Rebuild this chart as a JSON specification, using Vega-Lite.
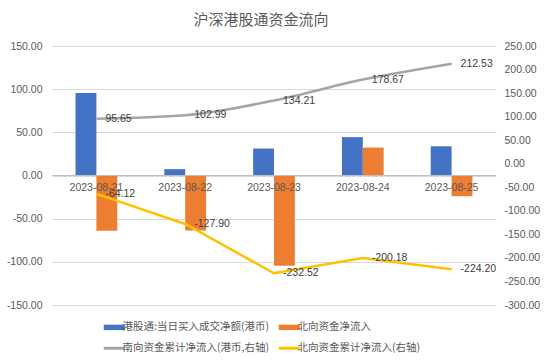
{
  "$schema": "https://vega.github.io/schema/vega-lite/v6.json",
  "width": 444,
  "height": 259,
  "autosize": "none",
  "padding": {"left": 52, "top": 46, "right": 54, "bottom": 59},
  "background": "white",
  "title": {"text": "沪深港股通资金流向", "font": "Noto Sans CJK SC", "fontSize": 15, "fontWeight": "normal", "color": "#595959", "offset": 13, "dx": -13, "anchor": "middle", "frame": "group"},
  "config": {"view": {"stroke": null}, "locale": {"number": {"decimal": ".", "thousands": ",", "grouping": [3], "currency": ["$", ""], "minus": "-"}}},
  "data": {"values": [
    {"date": "2023-08-21", "series": "港股通:当日买入成交净额(港币)", "value": 95.65},
    {"date": "2023-08-22", "series": "港股通:当日买入成交净额(港币)", "value": 7.34},
    {"date": "2023-08-23", "series": "港股通:当日买入成交净额(港币)", "value": 31.22},
    {"date": "2023-08-24", "series": "港股通:当日买入成交净额(港币)", "value": 44.46},
    {"date": "2023-08-25", "series": "港股通:当日买入成交净额(港币)", "value": 33.86},
    {"date": "2023-08-21", "series": "北向资金净流入", "value": -64.12},
    {"date": "2023-08-22", "series": "北向资金净流入", "value": -63.78},
    {"date": "2023-08-23", "series": "北向资金净流入", "value": -104.62},
    {"date": "2023-08-24", "series": "北向资金净流入", "value": 32.34},
    {"date": "2023-08-25", "series": "北向资金净流入", "value": -24.02},
    {"date": "2023-08-21", "series": "南向资金累计净流入(港币,右轴)", "value": 95.65},
    {"date": "2023-08-22", "series": "南向资金累计净流入(港币,右轴)", "value": 102.99},
    {"date": "2023-08-23", "series": "南向资金累计净流入(港币,右轴)", "value": 134.21},
    {"date": "2023-08-24", "series": "南向资金累计净流入(港币,右轴)", "value": 178.67},
    {"date": "2023-08-25", "series": "南向资金累计净流入(港币,右轴)", "value": 212.53},
    {"date": "2023-08-21", "series": "北向资金累计净流入(右轴)", "value": -64.12},
    {"date": "2023-08-22", "series": "北向资金累计净流入(右轴)", "value": -127.90},
    {"date": "2023-08-23", "series": "北向资金累计净流入(右轴)", "value": -232.52},
    {"date": "2023-08-24", "series": "北向资金累计净流入(右轴)", "value": -200.18},
    {"date": "2023-08-25", "series": "北向资金累计净流入(右轴)", "value": -224.20}
  ]},
  "layer": [
    {
      "layer": [
        {
          "transform": [{"filter": {"field": "series", "oneOf": ["港股通:当日买入成交净额(港币)", "北向资金净流入"]}}],
          "mark": {"type": "bar"},
          "encoding": {
            "x": {"field": "date", "type": "nominal", "scale": {"paddingInner": 0.53, "paddingOuter": 0.265}, "axis": null},
            "xOffset": {"field": "series", "type": "nominal", "scale": {"domain": ["港股通:当日买入成交净额(港币)", "北向资金净流入"], "paddingInner": 0, "paddingOuter": 0}},
            "y": {"field": "value", "type": "quantitative", "scale": {"domain": [-150, 150], "nice": false, "zero": false},
              "axis": {"orient": "left", "title": null, "format": ".2f", "values": [-150, -100, -50, 0, 50, 100, 150], "labelOverlap": false, "grid": true, "gridColor": "#D9D9D9", "domain": false, "ticks": false, "labelPadding": 10, "labelFontSize": 10.5, "labelColor": "#595959", "labelFont": "Liberation Sans"}},
            "color": {"field": "series", "type": "nominal",
              "scale": {"domain": ["港股通:当日买入成交净额(港币)", "北向资金净流入", "南向资金累计净流入(港币,右轴)", "北向资金累计净流入(右轴)"], "range": ["#4472C4", "#ED7D31", "#A5A5A5", "#FFC000"]},
              "legend": {"orient": "none", "direction": "horizontal", "legendX": 57, "legendY": 276, "columns": 2, "title": null, "padding": 0, "symbolSize": 441, "symbolType": "M-1,-0.26H1V0.26H-1Z", "labelFont": "Noto Sans CJK SC", "labelFontSize": 10.5, "labelColor": "#595959", "labelOffset": 3, "columnPadding": 2, "rowPadding": 9, "labelLimit": 300,
                "encode": {"symbols": {"update": {
                  "shape": {"signal": "datum.index < 2 ? 'M-1,-0.26H1V0.26H-1Z' : 'M-1,0H1'"},
                  "fill": {"signal": "datum.index < 2 ? scale('color', datum.value) : 'transparent'"},
                  "stroke": {"signal": "scale('color', datum.value)"},
                  "strokeWidth": {"signal": "datum.index < 2 ? 0 : 3"},
                  "opacity": {"value": 1}
                }}}}}
          }
        },
        {
          "transform": [{"filter": {"field": "series", "equal": "南向资金累计净流入(港币,右轴)"}}],
          "mark": {"type": "rule", "color": "#BFBFBF", "strokeWidth": 1},
          "encoding": {"y": {"datum": 0}}
        },
        {
          "transform": [{"filter": {"field": "series", "equal": "南向资金累计净流入(港币,右轴)"}}],
          "mark": {"type": "text", "dy": 12, "fontSize": 10.5, "font": "Liberation Sans", "color": "#595959", "baseline": "middle", "align": "center"},
          "encoding": {
            "x": {"field": "date", "type": "nominal"},
            "y": {"datum": 0},
            "text": {"field": "date"}
          }
        }
      ]
    },
    {
      "layer": [
        {
          "transform": [{"filter": {"field": "series", "equal": "南向资金累计净流入(港币,右轴)"}}],
          "mark": {"type": "line", "interpolate": "monotone", "strokeWidth": 2.5},
          "encoding": {
            "x": {"field": "date", "type": "nominal"},
            "y": {"field": "value", "type": "quantitative", "scale": {"domain": [-300, 250], "nice": false, "zero": false},
              "axis": {"orient": "right", "title": null, "format": ".2f", "values": [-300, -250, -200, -150, -100, -50, 0, 50, 100, 150, 200, 250], "tickCount": 12, "labelOverlap": false, "grid": false, "domain": false, "ticks": false, "labelPadding": 8, "labelFontSize": 10.5, "labelColor": "#595959", "labelFont": "Liberation Sans"}},
            "color": {"field": "series", "type": "nominal"}
          }
        },
        {
          "transform": [{"filter": {"field": "series", "equal": "北向资金累计净流入(右轴)"}}],
          "mark": {"type": "line", "strokeWidth": 2.5},
          "encoding": {
            "x": {"field": "date", "type": "nominal"},
            "y": {"field": "value", "type": "quantitative",
              "axis": {"orient": "right", "title": null, "format": ".2f", "values": [-300, -250, -200, -150, -100, -50, 0, 50, 100, 150, 200, 250], "tickCount": 12, "labelOverlap": false, "grid": false, "domain": false, "ticks": false, "labelPadding": 8, "labelFontSize": 10.5, "labelColor": "#595959", "labelFont": "Liberation Sans"}},
            "color": {"field": "series", "type": "nominal"}
          }
        },
        {
          "transform": [{"filter": {"field": "series", "oneOf": ["南向资金累计净流入(港币,右轴)", "北向资金累计净流入(右轴)"]}}],
          "mark": {"type": "text", "align": "left", "baseline": "middle", "dx": 9, "fontSize": 10.5, "font": "Liberation Sans", "color": "#404040"},
          "encoding": {
            "x": {"field": "date", "type": "nominal"},
            "y": {"field": "value", "type": "quantitative",
              "axis": {"orient": "right", "title": null, "format": ".2f", "values": [-300, -250, -200, -150, -100, -50, 0, 50, 100, 150, 200, 250], "tickCount": 12, "labelOverlap": false, "grid": false, "domain": false, "ticks": false, "labelPadding": 8, "labelFontSize": 10.5, "labelColor": "#595959", "labelFont": "Liberation Sans"}},
            "text": {"field": "value", "type": "quantitative", "format": ".2f"}
          }
        }
      ]
    }
  ],
  "resolve": {"scale": {"y": "independent"}}
}
